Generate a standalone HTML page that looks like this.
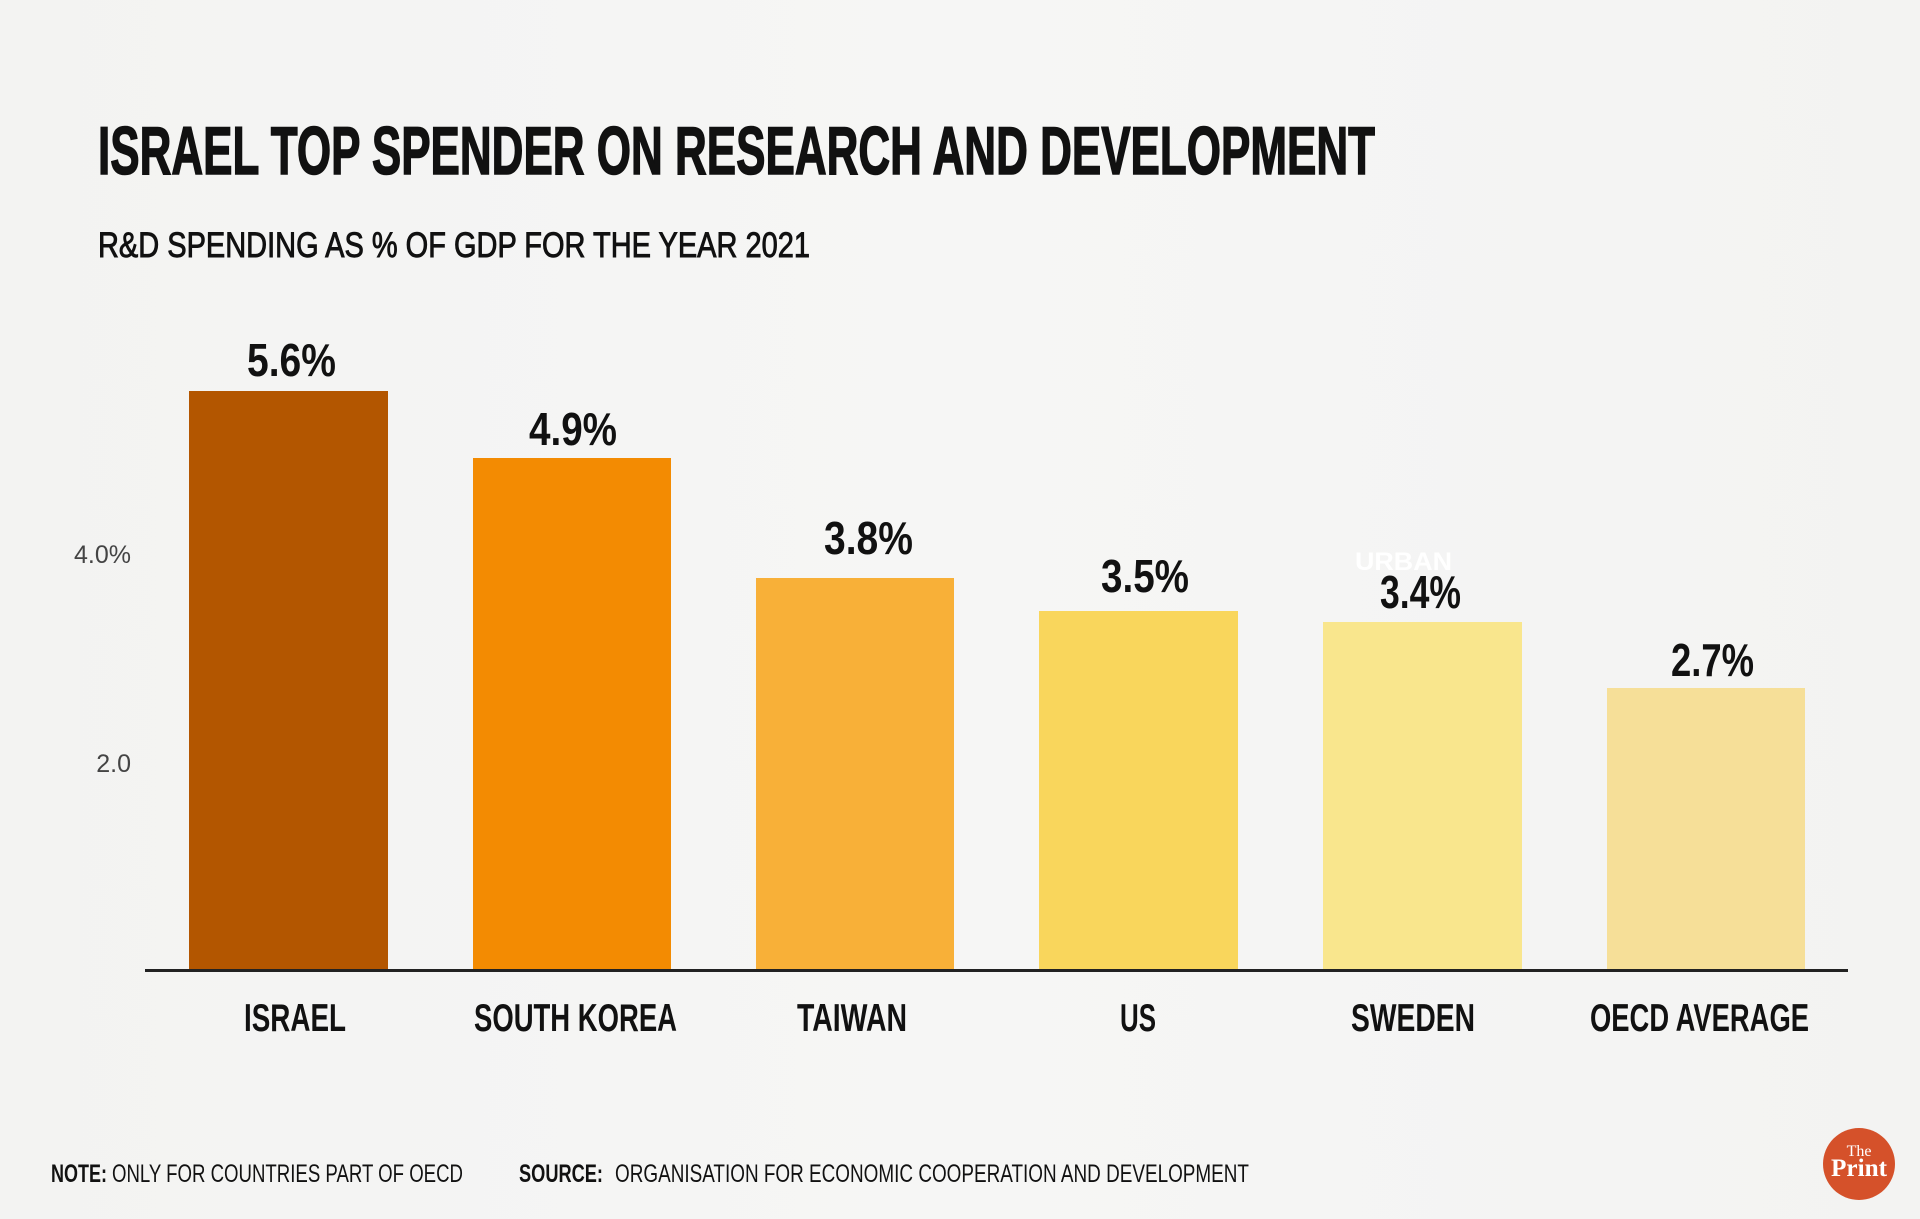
<!DOCTYPE html>
<html>
<head>
<meta charset="utf-8">
<style>
  html,body{margin:0;padding:0;background:#f4f4f3;}
  svg{display:block;}
  text{font-family:"Liberation Sans", Arial, sans-serif;}
</style>
</head>
<body>
<svg width="1920" height="1219" viewBox="0 0 1920 1219" xmlns="http://www.w3.org/2000/svg">
  <defs>
    <linearGradient id="bg" x1="0" y1="0" x2="1" y2="0">
      <stop offset="0" stop-color="#f3f3f2"/>
      <stop offset="0.5" stop-color="#f6f6f5"/>
      <stop offset="1" stop-color="#f3f3f2"/>
    </linearGradient>
  </defs>
  <rect x="0" y="0" width="1920" height="1219" fill="url(#bg)"/>

  <!-- Title -->
  <text x="98" y="174" font-size="68" font-weight="bold" fill="#111" stroke="#111" stroke-width="1.5" textLength="1277" lengthAdjust="spacingAndGlyphs">ISRAEL TOP SPENDER ON RESEARCH AND DEVELOPMENT</text>
  <!-- Subtitle -->
  <text x="98" y="257" font-size="35" fill="#111" stroke="#111" stroke-width="0.9" textLength="712" lengthAdjust="spacingAndGlyphs">R&amp;D SPENDING AS % OF GDP FOR THE YEAR 2021</text>

  <!-- Y tick labels -->
  <text x="131" y="563" font-size="25" fill="#444" text-anchor="end">4.0%</text>
  <text x="131" y="772" font-size="25" fill="#444" text-anchor="end">2.0</text>

  <!-- faint background text -->
  <text x="1355" y="570" font-size="25" font-weight="bold" fill="#ffffff" textLength="97" lengthAdjust="spacingAndGlyphs">URBAN</text>

  <!-- Bars -->
  <rect x="189" y="391" width="199" height="579" fill="#b35600"/>
  <rect x="473" y="458" width="198" height="512" fill="#f38b02"/>
  <rect x="756" y="578" width="198" height="392" fill="#f8b038"/>
  <rect x="1039" y="611" width="199" height="359" fill="#f9d65c"/>
  <rect x="1323" y="622" width="199" height="348" fill="#f9e68d"/>
  <rect x="1607" y="688" width="198" height="282" fill="#f6df98"/>

  <!-- Value labels -->
  <g font-size="46" font-weight="bold" fill="#111">
    <text x="247" y="376" textLength="89" lengthAdjust="spacingAndGlyphs">5.6%</text>
    <text x="529" y="445" textLength="88" lengthAdjust="spacingAndGlyphs">4.9%</text>
    <text x="824" y="554" textLength="89" lengthAdjust="spacingAndGlyphs">3.8%</text>
    <text x="1101" y="592" textLength="88" lengthAdjust="spacingAndGlyphs">3.5%</text>
    <text x="1380" y="608" textLength="81" lengthAdjust="spacingAndGlyphs">3.4%</text>
    <text x="1671" y="676" textLength="83" lengthAdjust="spacingAndGlyphs">2.7%</text>
  </g>

  <!-- Axis line -->
  <rect x="145" y="969" width="1703" height="3" fill="#222"/>

  <!-- Category labels -->
  <g font-size="39" font-weight="bold" fill="#111">
    <text x="244" y="1031" textLength="102" lengthAdjust="spacingAndGlyphs">ISRAEL</text>
    <text x="474" y="1031" textLength="203" lengthAdjust="spacingAndGlyphs">SOUTH KOREA</text>
    <text x="797" y="1031" textLength="110" lengthAdjust="spacingAndGlyphs">TAIWAN</text>
    <text x="1120" y="1031" textLength="36" lengthAdjust="spacingAndGlyphs">US</text>
    <text x="1351" y="1031" textLength="124" lengthAdjust="spacingAndGlyphs">SWEDEN</text>
    <text x="1590" y="1031" textLength="219" lengthAdjust="spacingAndGlyphs">OECD AVERAGE</text>
  </g>

  <!-- Footer -->
  <g font-size="25" fill="#111">
    <text x="51" y="1182" font-weight="bold" textLength="56" lengthAdjust="spacingAndGlyphs">NOTE:</text>
    <text x="112" y="1182" textLength="351" lengthAdjust="spacingAndGlyphs">ONLY FOR COUNTRIES PART OF OECD</text>
    <text x="519" y="1182" font-weight="bold" textLength="84" lengthAdjust="spacingAndGlyphs">SOURCE:</text>
    <text x="615" y="1182" textLength="634" lengthAdjust="spacingAndGlyphs">ORGANISATION FOR ECONOMIC COOPERATION AND DEVELOPMENT</text>
  </g>

  <!-- Logo -->
  <circle cx="1859" cy="1164" r="36" fill="#d5512a"/>
  <text x="1859" y="1156" font-size="16" fill="#fff" text-anchor="middle" style="font-family:'Liberation Serif',serif">The</text>
  <text x="1859" y="1176" font-size="25" font-weight="bold" fill="#fff" text-anchor="middle" style="font-family:'Liberation Serif',serif" textLength="56" lengthAdjust="spacingAndGlyphs">Print</text>
</svg>
</body>
</html>
